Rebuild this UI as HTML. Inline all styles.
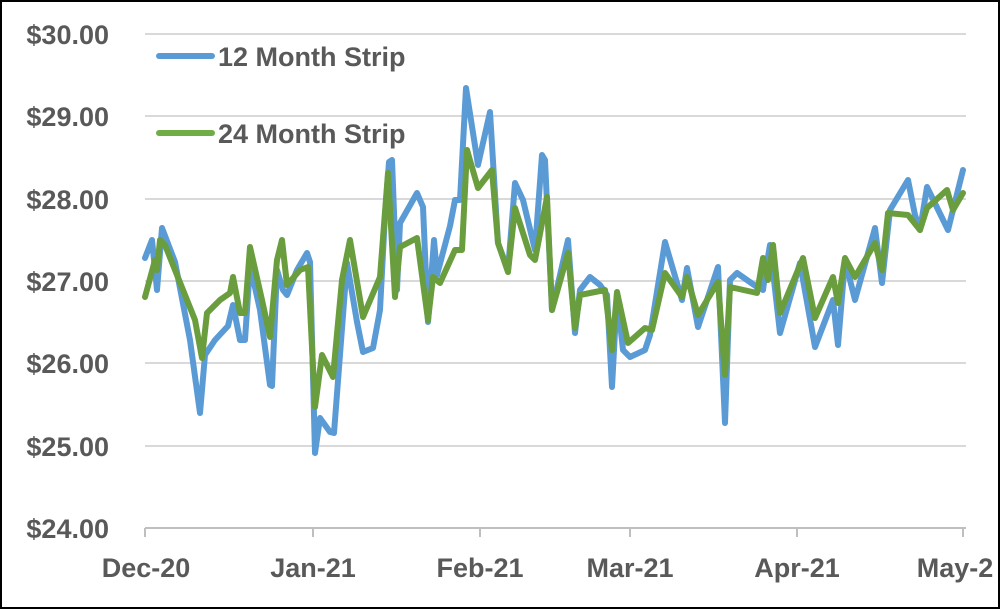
<!DOCTYPE html>
<html><head><style>
html,body{margin:0;padding:0;background:#fff;}
svg{display:block;}
text{font-family:"Liberation Sans",sans-serif;font-weight:bold;fill:#595959;font-size:27px;}
</style></head><body>
<svg width="1000" height="609" viewBox="0 0 1000 609">
<rect x="1" y="1" width="998" height="607" fill="#fff" stroke="#000" stroke-width="2"/>
<g stroke="#d9d9d9" stroke-width="2">
<line x1="145" y1="34" x2="966" y2="34"/>
<line x1="145" y1="116" x2="966" y2="116"/>
<line x1="145" y1="199" x2="966" y2="199"/>
<line x1="145" y1="281" x2="966" y2="281"/>
<line x1="145" y1="363" x2="966" y2="363"/>
<line x1="145" y1="446" x2="966" y2="446"/>
</g>
<g stroke="#bfbfbf" stroke-width="2">
<line x1="145" y1="528" x2="966" y2="528"/>
<line x1="145" y1="528" x2="145" y2="537"/>
<line x1="313" y1="528" x2="313" y2="537"/>
<line x1="480" y1="528" x2="480" y2="537"/>
<line x1="630" y1="528" x2="630" y2="537"/>
<line x1="797" y1="528" x2="797" y2="537"/>
<line x1="963" y1="528" x2="963" y2="537"/>
</g>
<g text-anchor="end">
<text x="109" y="44">$30.00</text>
<text x="109" y="126">$29.00</text>
<text x="109" y="209">$28.00</text>
<text x="109" y="291">$27.00</text>
<text x="109" y="373">$26.00</text>
<text x="109" y="456">$25.00</text>
<text x="109" y="538">$24.00</text>
</g>
<g text-anchor="middle">
<text x="146" y="577">Dec-20</text>
<text x="313" y="577">Jan-21</text>
<text x="480" y="577">Feb-21</text>
<text x="630" y="577">Mar-21</text>
<text x="797" y="577">Apr-21</text>
<text x="955" y="577">May-2</text>
</g>
<line x1="159" y1="56" x2="212" y2="56" stroke="#5b9bd5" stroke-width="6" stroke-linecap="round"/>
<text x="218" y="66">12 Month Strip</text>
<line x1="159" y1="133" x2="212" y2="133" stroke="#70ad47" stroke-width="6" stroke-linecap="round"/>
<text x="218" y="143">24 Month Strip</text>
<polyline fill="none" stroke="#5b9bd5" stroke-width="6" stroke-linejoin="round" stroke-linecap="round" points="145,258 152,240 157,290 162,228 175,262 190,340 200,413 205,355 215,340 228,326 233,305 240,340 245,340 250,265 260,310 270,385 272,386 277,270 283,290 287,295 297,270 307,253 310,262 315,453 320,418 330,432 334,433 347,263 357,322 363,352 373,348 380,310 385,215 389,162 392,160 397,290 400,223 417,193 423,207 428,322 434,240 437,275 450,226 455,200 460,200 466,88 478,165 490,112 498,243 508,270 515,183 523,200 535,250 542,155 545,160 552,310 568,240 575,333 580,290 590,277 600,285 607,295 612,387 617,295 623,350 630,357 645,350 650,335 665,242 682,300 687,268 698,327 718,267 725,423 730,280 737,273 757,287 763,290 765,275 770,245 780,333 800,263 815,347 833,300 838,345 845,260 855,300 875,228 882,283 890,210 908,180 915,215 920,230 927,187 948,230 963,170"/>
<polyline fill="none" stroke="#6a9d3e" stroke-width="6" stroke-linejoin="round" stroke-linecap="round" points="145,297 155,260 157,270 160,240 165,245 183,290 195,320 202,358 207,313 220,300 230,293 233,277 240,313 245,313 250,247 262,300 270,337 277,260 282,240 287,285 300,270 308,267 315,407 322,355 333,377 342,280 350,240 363,317 380,277 388,173 395,297 400,247 417,238 428,320 433,277 440,283 455,250 462,250 467,150 478,188 492,170 498,243 508,272 515,208 530,255 535,260 547,197 552,310 568,253 575,328 580,295 590,293 605,290 612,350 617,292 628,343 645,328 652,330 665,273 682,297 687,277 698,315 718,282 725,375 730,287 757,293 763,258 768,280 773,245 780,313 803,258 815,318 833,277 838,303 845,258 855,277 875,243 882,270 888,213 908,215 920,230 927,208 947,190 953,210 963,193"/>
</svg>
</body></html>
